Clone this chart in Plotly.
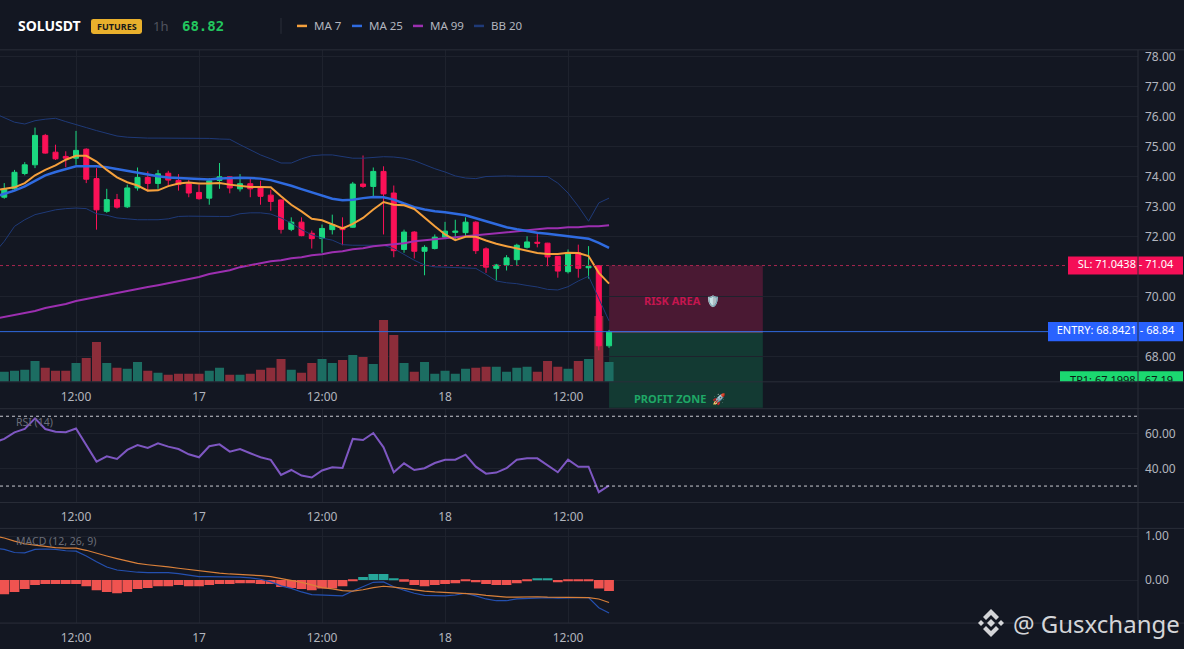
import plotly.graph_objects as go

WIDTH = 1184
HEIGHT = 649

BG = "#131722"
GRID = "#1e222d"
BORDER = "#2a2e39"
TICK = "#b2b5be"
UP = "#1bd880"
DOWN = "#fb1157"
FONT = "Noto Sans"

hours = list(range(-7, 53))
line_hours = [-8] + hours
tick_hours = [0, 12, 24, 36, 48]
tick_names = ["12:00", "17", "12:00", "18", "12:00"]

opens = [73.32, 73.60, 74.11, 74.40, 75.38, 74.82, 74.68,
         74.62, 74.92, 73.94, 72.85, 73.24, 73.00, 73.63, 73.98, 73.78, 74.12, 73.88, 73.77,
         73.48, 73.29, 73.88, 74.00, 73.60, 73.77, 73.63, 73.39, 73.23, 72.25, 72.49, 72.12,
         71.95, 72.24, 72.32, 72.32, 73.76, 73.68, 74.18, 73.46, 71.58, 72.16, 71.52, 71.61,
         71.99, 72.15, 72.14, 72.49, 71.60, 70.95, 71.06, 71.24, 71.65, 71.82, 71.79, 71.35,
         70.84, 71.47, 70.97, 71.04, 68.37]
highs = [73.79, 74.23, 74.49, 75.64, 75.43, 75.07, 74.85,
         75.53, 74.95, 74.29, 73.60, 73.43, 73.74, 74.31, 74.18, 74.23, 74.20, 74.09, 73.90,
         73.74, 73.96, 74.46, 74.01, 74.09, 73.94, 73.87, 73.57, 73.24, 72.65, 72.65, 72.21,
         72.41, 72.74, 72.65, 73.83, 74.71, 74.31, 74.35, 73.71, 72.24, 72.19, 71.72, 72.08,
         72.50, 72.57, 72.65, 72.52, 71.65, 71.10, 71.39, 71.77, 72.02, 72.12, 71.80, 71.36,
         71.58, 71.74, 71.69, 71.06, 68.90]
lows = [73.27, 73.57, 74.05, 74.29, 74.77, 74.56, 74.32,
        74.40, 73.79, 72.24, 72.80, 72.94, 72.96, 73.54, 73.51, 73.60, 73.71, 73.54, 73.32,
        73.24, 73.07, 73.60, 73.45, 73.51, 73.32, 73.07, 72.87, 72.11, 72.19, 72.02, 71.61,
        71.47, 72.08, 71.72, 72.30, 73.63, 73.35, 72.08, 71.32, 71.47, 71.28, 70.72, 71.58,
        71.96, 71.88, 72.02, 71.43, 70.80, 70.55, 70.88, 71.06, 71.61, 71.65, 71.02, 70.64,
        70.78, 70.64, 70.61, 68.22, 68.30]
closes = [73.60, 74.15, 74.40, 75.38, 74.79, 74.60, 74.62,
          74.88, 73.92, 72.90, 73.24, 72.99, 73.63, 73.98, 73.78, 74.10, 73.89, 73.74, 73.46,
          73.27, 73.87, 74.00, 73.63, 73.77, 73.60, 73.35, 73.18, 72.25, 72.49, 72.04, 71.94,
          72.28, 72.41, 72.24, 73.76, 73.68, 74.18, 73.43, 71.54, 72.16, 71.52, 71.65, 71.99,
          72.19, 72.19, 72.49, 71.54, 70.99, 71.06, 71.30, 71.72, 71.83, 71.79, 71.33, 70.86,
          71.47, 70.95, 71.02, 68.37, 68.82]
volumes = [10, 11, 12, 21, 14, 11, 11,
           19, 24, 40, 19, 14, 13, 20, 11, 9, 7, 8, 8,
           8, 11, 14, 7, 7, 8, 12, 14, 23, 12, 9, 19,
           23, 19, 22, 27, 25, 18, 62, 47, 19, 10, 20, 8,
           11, 8, 13, 14, 15, 15, 10, 14, 15, 10, 21, 15,
           13, 21, 23, 66, 20]

ma7 = [73.55, 73.60, 73.65, 73.79, 74.05, 74.23, 74.38, 74.57,
       74.70, 74.70, 74.51, 74.23, 73.98, 73.82, 73.71, 73.54, 73.55, 73.69, 73.78, 73.81,
       73.78, 73.78, 73.79, 73.74, 73.69, 73.66, 73.66, 73.65, 73.35, 73.07, 72.85, 72.60,
       72.55, 72.41, 72.28, 72.43, 72.63, 72.91, 73.16, 73.07, 73.05, 72.93, 72.63, 72.35,
       72.08, 71.89, 72.00, 72.00, 71.88, 71.77, 71.69, 71.61, 71.52, 71.46, 71.43, 71.43,
       71.47, 71.46, 71.36, 70.80, 70.44]
ma25 = [73.33, 73.43, 73.54, 73.68, 73.87, 74.05, 74.16, 74.26,
        74.35, 74.35, 74.35, 74.32, 74.26, 74.20, 74.12, 74.07, 74.02, 73.98, 73.96, 73.94,
        73.91, 73.91, 73.94, 73.96, 73.97, 73.96, 73.94, 73.89, 73.80, 73.70, 73.59, 73.49,
        73.37, 73.27, 73.22, 73.24, 73.29, 73.33, 73.32, 73.24, 73.11, 72.99, 72.91, 72.85,
        72.82, 72.77, 72.72, 72.62, 72.52, 72.41, 72.32, 72.25, 72.19, 72.14, 72.10, 72.06,
        72.04, 72.00, 71.94, 71.80, 71.63]
ma99 = [69.27, 69.33, 69.40, 69.46, 69.53, 69.63, 69.69, 69.76,
        69.86, 69.93, 69.99, 70.06, 70.13, 70.19, 70.26, 70.33, 70.39, 70.46, 70.53, 70.59,
        70.66, 70.76, 70.82, 70.89, 70.99, 71.06, 71.12, 71.19, 71.22, 71.29, 71.32, 71.39,
        71.42, 71.49, 71.52, 71.59, 71.62, 71.69, 71.72, 71.75, 71.79, 71.85, 71.89, 71.92,
        71.95, 71.99, 72.02, 72.05, 72.09, 72.12, 72.15, 72.19, 72.22, 72.25, 72.29, 72.29,
        72.32, 72.32, 72.35, 72.35, 72.39]
bb_upper = [76.12, 75.97, 75.82, 75.76, 75.87, 75.92, 75.95, 75.84,
            75.73, 75.64, 75.54, 75.45, 75.36, 75.32, 75.30, 75.29, 75.29, 75.29, 75.29, 75.29,
            75.29, 75.28, 75.26, 75.25, 75.07, 74.90, 74.73, 74.60, 74.46, 74.46, 74.60, 74.70,
            74.73, 74.73, 74.68, 74.62, 74.62, 74.64, 74.67, 74.66, 74.62, 74.54, 74.40, 74.27,
            74.16, 74.03, 73.96, 73.94, 74.01, 74.03, 74.03, 74.02, 74.01, 74.01, 74.01, 73.79,
            73.46, 73.02, 72.52, 73.13, 73.29]
bb_lower = [71.45, 71.85, 72.35, 72.57, 72.74, 72.83, 72.90, 72.94,
            72.96, 72.94, 72.77, 72.72, 72.63, 72.60, 72.57, 72.57, 72.57, 72.60, 72.68, 72.69,
            72.68, 72.68, 72.68, 72.68, 72.77, 72.80, 72.80, 72.76, 72.63, 72.46, 72.24, 72.07,
            71.96, 71.89, 71.74, 71.72, 71.72, 71.72, 71.72, 71.61, 71.41, 71.22, 71.06, 71.00,
            70.99, 70.98, 70.97, 70.95, 70.75, 70.53, 70.47, 70.44, 70.38, 70.33, 70.25, 70.23,
            70.34, 70.53, 70.69, 69.97, 69.20]

rsi = [55.0, 57.0, 60.8, 62.7, 68.8, 62.7, 61.1, 60.8,
       63.0, 53.5, 44.0, 47.0, 45.5, 50.7, 53.5, 51.8, 54.5, 52.6, 51.2, 48.2,
       46.5, 52.8, 53.9, 49.7, 51.2, 48.8, 46.5, 45.0, 36.4, 39.2, 36.0, 34.9,
       38.9, 40.8, 40.4, 57.0, 56.4, 60.4, 52.2, 37.9, 43.0, 39.2, 40.2, 43.2,
       45.1, 45.1, 48.0, 41.1, 37.1, 37.7, 40.2, 45.1, 45.9, 45.9, 42.1, 37.9,
       45.1, 41.0, 41.1, 26.5, 30.3]

macd_line = [0.73, 0.70, 0.63, 0.62, 0.70, 0.71, 0.70, 0.67,
             0.66, 0.55, 0.42, 0.30, 0.23, 0.20, 0.18, 0.17, 0.17, 0.17, 0.15, 0.11,
             0.08, 0.08, 0.08, 0.08, 0.07, 0.05, 0.02, -0.04, -0.13, -0.19, -0.27, -0.33,
             -0.34, -0.36, -0.36, -0.25, -0.15, -0.05, -0.04, -0.15, -0.23, -0.30, -0.35, -0.36,
             -0.36, -0.34, -0.30, -0.36, -0.43, -0.47, -0.47, -0.43, -0.42, -0.40, -0.40, -0.41,
             -0.40, -0.40, -0.40, -0.63, -0.75]
macd_signal = [1.01, 0.96, 0.89, 0.83, 0.80, 0.77, 0.74, 0.73,
               0.73, 0.68, 0.61, 0.55, 0.49, 0.43, 0.38, 0.35, 0.33, 0.30, 0.27, 0.24,
               0.21, 0.18, 0.16, 0.14, 0.13, 0.11, 0.10, 0.08, 0.04, -0.01, -0.05, -0.11,
               -0.17, -0.20, -0.24, -0.25, -0.22, -0.17, -0.14, -0.16, -0.19, -0.23, -0.25, -0.27,
               -0.28, -0.29, -0.30, -0.32, -0.35, -0.37, -0.39, -0.39, -0.38, -0.38, -0.39, -0.39,
               -0.39, -0.40, -0.40, -0.43, -0.51]
macd_hist = [-0.32, -0.27, -0.20, -0.11, -0.09, -0.09, -0.09,
             -0.09, -0.14, -0.23, -0.27, -0.30, -0.27, -0.20, -0.18, -0.14, -0.14, -0.11, -0.14,
             -0.14, -0.11, -0.09, -0.09, -0.07, -0.07, -0.09, -0.09, -0.16, -0.18, -0.20, -0.23,
             -0.19, -0.19, -0.14, -0.01, 0.07, 0.14, 0.14, 0.02, -0.04, -0.11, -0.14, -0.11,
             -0.09, -0.07, -0.02, -0.05, -0.09, -0.11, -0.11, -0.07, -0.02, 0.02, 0.02, -0.05,
             -0.02, -0.02, -0.02, -0.19, -0.25]

price_ticks = [68, 70, 72, 73, 74, 75, 76, 77, 78]
rsi_ticks = [40, 60]
macd_ticks = [0, 1]
rsi_levels = [30, 70]

sl_price = 71.0438
entry_price = 68.8421
tp1_price = 67.1998
zone_start = 52
zone_end = 67


def px(x):
    return x / WIDTH


def py(y):
    return 1 - y / HEIGHT


def rounded_rect(x0, y0, x1, y1, r):
    return (f"M{px(x0 + r)},{py(y0)} L{px(x1 - r)},{py(y0)} Q{px(x1)},{py(y0)} {px(x1)},{py(y0 + r)} "
            f"L{px(x1)},{py(y1 - r)} Q{px(x1)},{py(y1)} {px(x1 - r)},{py(y1)} "
            f"L{px(x0 + r)},{py(y1)} Q{px(x0)},{py(y1)} {px(x0)},{py(y1 - r)} "
            f"L{px(x0)},{py(y0 + r)} Q{px(x0)},{py(y0)} {px(x0 + r)},{py(y0)} Z")


def poly(points):
    return "M" + " L".join(f"{px(x)},{py(y)}" for x, y in points) + " Z"


fig = go.Figure()

# volume sits on the lower y axis so the candles draw over it
fig.add_trace(go.Bar(x=hours, y=volumes, width=0.88, xaxis="x", yaxis="y",
                     marker=dict(color=["#1c6d62" if c >= o else "#8c2d3a" for o, c in zip(opens, closes)],
                                 line=dict(width=0))))
fig.add_trace(go.Candlestick(x=hours, open=opens, high=highs, low=lows, close=closes,
                             xaxis="x", yaxis="y2", whiskerwidth=0,
                             increasing=dict(line=dict(color=UP, width=1), fillcolor=UP),
                             decreasing=dict(line=dict(color=DOWN, width=1), fillcolor=DOWN)))
fig.add_trace(go.Scatter(x=line_hours, y=bb_upper, mode="lines", xaxis="x", yaxis="y2",
                         line=dict(color="#1f3a78", width=1)))
fig.add_trace(go.Scatter(x=line_hours, y=bb_lower, mode="lines", xaxis="x", yaxis="y2",
                         line=dict(color="#1f3a78", width=1)))
fig.add_trace(go.Scatter(x=line_hours, y=ma99, mode="lines", xaxis="x", yaxis="y2",
                         line=dict(color="#9c2fb0", width=2)))
fig.add_trace(go.Scatter(x=line_hours, y=ma25, mode="lines", xaxis="x", yaxis="y2",
                         line=dict(color="#2f6be0", width=2.5)))
fig.add_trace(go.Scatter(x=line_hours, y=ma7, mode="lines", xaxis="x", yaxis="y2",
                         line=dict(color="#f5a03c", width=2)))

fig.add_trace(go.Scatter(x=line_hours, y=rsi, mode="lines", xaxis="x2", yaxis="y3",
                         line=dict(color="#7e57c2", width=2)))

fig.add_trace(go.Bar(x=hours, y=macd_hist, width=0.95, xaxis="x3", yaxis="y4",
                     marker=dict(color=["#26a69a" if v > 0 else "#ef5350" for v in macd_hist],
                                 line=dict(width=0))))
fig.add_trace(go.Scatter(x=line_hours, y=macd_line, mode="lines", xaxis="x3", yaxis="y4",
                         line=dict(color="#2450b0", width=1.2)))
fig.add_trace(go.Scatter(x=line_hours, y=macd_signal, mode="lines", xaxis="x3", yaxis="y4",
                         line=dict(color="#d9803a", width=1.2)))

# price tags live on their own full width axis, clipped at the pane bottom like the original
tag_x = [1125.5, 1115.5, 1121.5]
tag_names = ["SL: 71.0438 - 71.04", "ENTRY: 68.8421 - 68.84", "TP1: 67.1998 - 67.19"]
fig.add_trace(go.Scatter(x=tag_x, y=[sl_price, entry_price, tp1_price], mode="text", text=tag_names,
                         textposition="middle center", cliponaxis=True, xaxis="x4", yaxis="y5",
                         textfont=dict(family=FONT, size=11, color=["#ffffff", "#ffffff", "#0b1a14"])))

shapes = []

# stop, entry and the two zones
shapes.append(dict(type="line", xref="x4", yref="y5", x0=0, x1=1068, y0=sl_price, y1=sl_price,
                   layer="below", line=dict(color="#a8264f", width=1, dash="dot")))
shapes.append(dict(type="line", xref="x4", yref="y5", x0=0, x1=1048, y0=entry_price, y1=entry_price,
                   layer="below", line=dict(color="#2f6be0", width=1)))
shapes.append(dict(type="rect", xref="x", yref="y2", x0=zone_start, x1=zone_end, y0=entry_price, y1=sl_price,
                   layer="below", fillcolor="rgba(232,30,99,0.26)", line=dict(width=0)))
shapes.append(dict(type="rect", xref="x", yref="paper", x0=zone_start, x1=zone_end, y0=py(331), y1=py(407),
                   layer="below", fillcolor="rgba(20,200,120,0.2)", line=dict(width=0)))
shapes.append(dict(type="line", xref="x", yref="y2", x0=zone_start, x1=zone_end, y0=entry_price, y1=entry_price,
                   layer="below", line=dict(color="rgba(240,90,130,0.6)", width=1.5)))

# tag backgrounds
shapes.append(dict(type="rect", xref="x4", yref="y5", x0=1068, x1=1183, y0=sl_price - 0.30, y1=sl_price + 0.30,
                   layer="below", fillcolor="#f50f57", line=dict(width=0)))
shapes.append(dict(type="rect", xref="x4", yref="y5", x0=1048, x1=1183, y0=entry_price - 0.32, y1=entry_price + 0.32,
                   layer="below", fillcolor="#2962ff", line=dict(width=0)))
shapes.append(dict(type="rect", xref="x4", yref="y5", x0=1060, x1=1183, y0=tp1_price - 0.32, y1=tp1_price + 0.32,
                   layer="below", fillcolor="#1bd870", line=dict(width=0)))

# pane frames run the full width
for y in [48, 381, 408, 502, 528, 623]:
    shapes.append(dict(type="line", xref="paper", yref="paper", x0=0, x1=1, y0=py(y), y1=py(y),
                       layer="above", line=dict(color=BORDER, width=1)))
shapes.append(dict(type="line", xref="paper", yref="paper", x0=px(1138), x1=px(1138), y0=py(48), y1=py(623),
                   layer="above", line=dict(color=BORDER, width=1)))

for level in rsi_levels:
    shapes.append(dict(type="line", xref="x2", yref="y3", x0=-8, x1=104, y0=level, y1=level,
                       layer="above", line=dict(color="#c9cbd1", width=1, dash="dot")))

# header furniture
shapes.append(dict(type="path", xref="paper", yref="paper", path=rounded_rect(91, 17, 142, 32, 2.5),
                   fillcolor="#e9b02c", line=dict(width=0)))
shapes.append(dict(type="line", xref="paper", yref="paper", x0=px(281), x1=px(281), y0=py(16), y1=py(32),
                   line=dict(color=BORDER, width=1)))
legend_items = [("MA 7", "#f5a03c", 297), ("MA 25", "#2f6be0", 352), ("MA 99", "#9c2fb0", 413), ("BB 20", "#1f3a78", 474)]
for name, color, x in legend_items:
    shapes.append(dict(type="line", xref="paper", yref="paper", x0=px(x), x1=px(x + 10), y0=py(24), y1=py(24),
                       line=dict(color=color, width=2.5)))

# watermark logo
cx, cy = 991, 623
logo_parts = [
    [(cx, cy - 4), (cx + 4, cy), (cx, cy + 4), (cx - 4, cy)],
    [(cx - 13, cy), (cx - 10, cy - 3), (cx - 7, cy), (cx - 10, cy + 3)],
    [(cx + 13, cy), (cx + 10, cy - 3), (cx + 7, cy), (cx + 10, cy + 3)],
    [(cx, cy - 14), (cx + 8, cy - 6), (cx + 5, cy - 3), (cx, cy - 8), (cx - 5, cy - 3), (cx - 8, cy - 6)],
    [(cx, cy + 14), (cx + 8, cy + 6), (cx + 5, cy + 3), (cx, cy + 8), (cx - 5, cy + 3), (cx - 8, cy + 6)],
]
for part in logo_parts:
    shapes.append(dict(type="path", xref="paper", yref="paper", path=poly(part), layer="above",
                       fillcolor="#d4d5d8", line=dict(width=0)))


def note(text, x, y, size, color, family=FONT, anchor="left"):
    return dict(text=text, xref="paper", yref="paper", x=px(x), y=py(y), xanchor=anchor, yanchor="middle",
                showarrow=False, font=dict(family=family, size=size, color=color))


annotations = [
    note("<b>SOLUSDT</b>", 16, 24, 14, "#ffffff"),
    note("<b>FUTURES</b>", 116.5, 24.5, 9, "#1a1a1a", anchor="center"),
    note("1h", 151, 24, 13, "#50535e"),
    note("<b>68.82</b>", 180, 24, 14, "#22c55e", family="DejaVu Sans Mono"),
    note("RSI (14)", 14, 421, 10.5, "#6a6d78"),
    note("MACD (12, 26, 9)", 14, 541, 10.5, "#6a6d78"),
    note("<b>RISK AREA</b>  🛡️", 642, 299, 11, "#c4164f"),
    note("<b>PROFIT ZONE</b>  🚀", 632, 398, 11, "#1fa866"),
    note("@ Gusxchange", 1011, 623, 24, "#d4d5d8"),
]
for name, color, x in legend_items:
    annotations.append(note(name, x + 15, 24, 11.5, "#b2b5be"))

x_range = [-7.415, 103.6]
axis_style = dict(range=x_range, tickvals=tick_hours, ticktext=tick_names, showgrid=True, gridcolor=GRID,
                  gridwidth=1, zeroline=False, ticks="", rangeslider=dict(visible=False),
                  tickfont=dict(family=FONT, size=12, color=TICK), ticklabelstandoff=6)
y_style = dict(side="right", showgrid=True, gridcolor=GRID, zeroline=False, ticks="", ticklabelstandoff=6,
               tickfont=dict(family=FONT, size=12, color=TICK), tickformat=".2f")
pane_main = [py(381), py(48)]
pane_rsi = [py(502), py(408)]
pane_macd = [py(623), py(528)]
plot_x = [0, px(1138)]

fig.update_layout(
    width=WIDTH, height=HEIGHT,
    margin=dict(l=0, r=0, t=0, b=0),
    paper_bgcolor=BG, plot_bgcolor="rgba(0,0,0,0)",
    showlegend=False, hovermode=False, barmode="overlay",
    shapes=shapes, annotations=annotations,
    xaxis=dict(domain=plot_x, anchor="y", **axis_style),
    xaxis2=dict(domain=plot_x, anchor="y3", **axis_style),
    xaxis3=dict(domain=plot_x, anchor="y4", **axis_style),
    xaxis4=dict(domain=[0, 1], anchor="y5", range=[0, WIDTH], visible=False),
    yaxis=dict(domain=pane_main, anchor="x", range=[0, 333], visible=False),
    yaxis2=dict(domain=pane_main, anchor="x", overlaying="y", range=[67.17, 78.23], tickvals=price_ticks, **y_style),
    yaxis3=dict(domain=pane_rsi, anchor="x2", range=[20.6, 74.3], tickvals=rsi_ticks, **y_style),
    yaxis4=dict(domain=pane_macd, anchor="x3", range=[-0.98, 1.18], tickvals=macd_ticks, **y_style),
    yaxis5=dict(domain=pane_main, anchor="x4", range=[67.17, 78.23], visible=False),
)

fig.write_html("out.html", config=dict(displayModeBar=False),
               post_script="document.body.style.margin='0';document.body.style.background='" + BG + "';")
